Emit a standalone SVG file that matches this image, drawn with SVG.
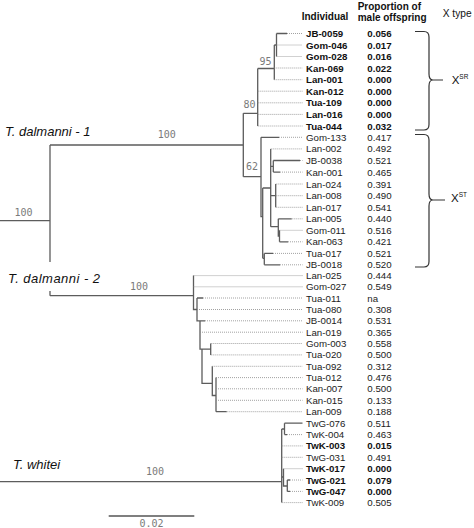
<svg xmlns="http://www.w3.org/2000/svg" width="474" height="528" viewBox="0 0 474 528">
<style>
.br{stroke:#5c5c5c;stroke-width:1.3;fill:none}
.dt{stroke:#8a8a8a;stroke-width:0.8;stroke-dasharray:1 1;fill:none}
.bc{stroke:#333;stroke-width:1.2;fill:none}
.nm{font-family:"Liberation Sans",Arial,sans-serif;font-size:9.7px;fill:#222}
.b{font-weight:bold;fill:#111}
.bs{font-family:"DejaVu Sans Mono",monospace;font-size:10px;fill:#7a7a7a;text-anchor:middle}
.sp{font-family:"Liberation Sans",Arial,sans-serif;font-style:italic;font-size:13px;fill:#111}
.hd{font-family:"Liberation Sans",Arial,sans-serif;font-weight:bold;font-size:10px;fill:#111}
.xt{font-family:"Liberation Sans",Arial,sans-serif;fill:#111}
</style>
<rect width="474" height="528" fill="#fff"/>
<g id="header">
<text class="hd" x="301.7" y="20">Individual</text>
<text class="hd" x="357.7" y="9.5">Proportion of</text>
<text class="hd" x="357.7" y="20.5">male offspring</text>
<text class="xt" x="442.7" y="16.5" font-size="10.2">X type</text>
</g>
<g id="connectors">
<path class="br" d="M0,220.7H50M50,145V262M50,291V295.7M50,145H243.3M243.3,113.3V176.7M243.3,113.3H257.7M257.7,68.5V126M257.7,68.5H274.3M274.3,45V79.7M274.3,45H276.5M276.5,33.5V56.5M276.5,33.5H287M243.3,176.7H261M261,137.3V216.7H262.7M261,137.3H279M262.7,188V258.3M262.7,188H270.7M270.7,148.9V226.7M270.7,166.3H273.3M273.3,160.5V172.1M273.3,160.5H300M273.3,172.1H280M270.7,195.7H275.7M275.7,184V207.3M270.7,226.7H278.3M278.3,218.8V236H279.5M279.5,230.3V241.8M278.3,218.8H291.7M279.5,241.8H288M262.7,258.3H264.3M264.3,253.4V264.8M264.3,253.4H273M264.3,264.8H280"/>
<path class="br" d="M50,295.7H193.5M193.5,275.6V309.5H197M197,298V320.8H200M197,298H203M200,320.8V349.2H210.7M202,349.2V383.3H212.3M200,320.8H205M210.7,343.5V354.9M212.3,366.3V395.5H216M216,377.6V411.7M216,411.7H226.7"/>
<path class="br" d="M0,481.7H281.7M281.7,429V502.6M281.7,429H284.5M284.5,423.2V434.6M284.5,423.2H302.5M284.5,434.6H287M281.7,477H283.5M283.5,468.7V486H287.3M287.3,480V491.4M287.3,480H290M287.3,491.4H290"/>
<path class="dt" d="M287,33.5H302.5M276.5,45H302.5M276.5,56.5H302.5M274.3,68H302.5M274.3,79.7H302.5M257.7,91.2H302.5M257.7,102.8H302.5M257.7,114.4H302.5M257.7,126H302.5M279,137.3H302.5M270.7,148.9H302.5M300,160.5H302.5M280,172.1H302.5M275.7,184H302.5M275.7,195.7H302.5M275.7,207.3H302.5M291.7,218.8H302.5M279.5,230.3H302.5M288,241.8H302.5M273,253.4H302.5M280,264.8H302.5"/>
<path class="dt" d="M193.5,275.6H302.5M193.5,286.8H302.5M203,298H302.5M197,309.5H302.5M205,320.8H302.5M200,332.2H302.5M210.7,343.5H302.5M210.7,354.9H302.5M212.3,366.3H302.5M216,377.6H302.5M216,388.8H302.5M216,400.3H302.5M226.7,411.7H302.5"/>
<path class="dt" d="M287,434.6H302.5M281.7,445.9H302.5M281.7,457.3H302.5M283.5,468.7H302.5M290,480H302.5M290,491.4H302.5M281.7,502.6H302.5"/>
</g>
<g id="support">
<text class="bs" x="23.5" y="215.5">100</text>
<text class="bs" x="166.7" y="137.7">100</text>
<text class="bs" x="139" y="289.5">100</text>
<text class="bs" x="155" y="474.5">100</text>
<text class="bs" x="265.4" y="64.5">95</text>
<text class="bs" x="249.5" y="108">80</text>
<text class="bs" x="252" y="169.5">62</text>
</g>
<g id="species">
<text class="sp" x="5" y="136">T. dalmanni - 1</text>
<text class="sp" x="8" y="283" textLength="92">T. dalmanni - 2</text>
<text class="sp" x="13" y="468.5">T. whitei</text>
</g>
<g id="tips" class="nm">
<g id="t0"><text class="b" x="306" y="37">JB-0059</text><text class="b" x="367.3" y="37">0.056</text></g>
<g id="t1"><text class="b" x="306" y="48.5">Gom-046</text><text class="b" x="367.3" y="48.5">0.017</text></g>
<g id="t2"><text class="b" x="306" y="60">Gom-028</text><text class="b" x="367.3" y="60">0.016</text></g>
<g id="t3"><text class="b" x="306" y="71.5">Kan-069</text><text class="b" x="367.3" y="71.5">0.022</text></g>
<g id="t4"><text class="b" x="306" y="83.2">Lan-001</text><text class="b" x="367.3" y="83.2">0.000</text></g>
<g id="t5"><text class="b" x="306" y="94.7">Kan-012</text><text class="b" x="367.3" y="94.7">0.000</text></g>
<g id="t6"><text class="b" x="306" y="106.3">Tua-109</text><text class="b" x="367.3" y="106.3">0.000</text></g>
<g id="t7"><text class="b" x="306" y="117.9">Lan-016</text><text class="b" x="367.3" y="117.9">0.000</text></g>
<g id="t8"><text class="b" x="306" y="129.5">Tua-044</text><text class="b" x="367.3" y="129.5">0.032</text></g>
<g id="t9"><text x="306" y="140.8">Gom-133</text><text x="367.3" y="140.8">0.417</text></g>
<g id="t10"><text x="306" y="152.4">Lan-002</text><text x="367.3" y="152.4">0.492</text></g>
<g id="t11"><text x="306" y="164">JB-0038</text><text x="367.3" y="164">0.521</text></g>
<g id="t12"><text x="306" y="175.6">Kan-001</text><text x="367.3" y="175.6">0.465</text></g>
<g id="t13"><text x="306" y="187.5">Lan-024</text><text x="367.3" y="187.5">0.391</text></g>
<g id="t14"><text x="306" y="199.2">Lan-008</text><text x="367.3" y="199.2">0.490</text></g>
<g id="t15"><text x="306" y="210.8">Lan-017</text><text x="367.3" y="210.8">0.541</text></g>
<g id="t16"><text x="306" y="222.3">Lan-005</text><text x="367.3" y="222.3">0.440</text></g>
<g id="t17"><text x="306" y="233.8">Gom-011</text><text x="367.3" y="233.8">0.516</text></g>
<g id="t18"><text x="306" y="245.3">Kan-063</text><text x="367.3" y="245.3">0.421</text></g>
<g id="t19"><text x="306" y="256.9">Tua-017</text><text x="367.3" y="256.9">0.521</text></g>
<g id="t20"><text x="306" y="268.3">JB-0018</text><text x="367.3" y="268.3">0.520</text></g>
<g id="t21"><text x="306" y="279.1">Lan-025</text><text x="367.3" y="279.1">0.444</text></g>
<g id="t22"><text x="306" y="290.3">Gom-027</text><text x="367.3" y="290.3">0.549</text></g>
<g id="t23"><text x="306" y="301.5">Tua-011</text><text x="367.3" y="301.5">na</text></g>
<g id="t24"><text x="306" y="313">Tua-080</text><text x="367.3" y="313">0.308</text></g>
<g id="t25"><text x="306" y="324.3">JB-0014</text><text x="367.3" y="324.3">0.531</text></g>
<g id="t26"><text x="306" y="335.7">Lan-019</text><text x="367.3" y="335.7">0.365</text></g>
<g id="t27"><text x="306" y="347">Gom-003</text><text x="367.3" y="347">0.558</text></g>
<g id="t28"><text x="306" y="358.4">Tua-020</text><text x="367.3" y="358.4">0.500</text></g>
<g id="t29"><text x="306" y="369.8">Tua-092</text><text x="367.3" y="369.8">0.312</text></g>
<g id="t30"><text x="306" y="381.1">Tua-012</text><text x="367.3" y="381.1">0.476</text></g>
<g id="t31"><text x="306" y="392.3">Kan-007</text><text x="367.3" y="392.3">0.500</text></g>
<g id="t32"><text x="306" y="403.8">Kan-015</text><text x="367.3" y="403.8">0.133</text></g>
<g id="t33"><text x="306" y="415.2">Lan-009</text><text x="367.3" y="415.2">0.188</text></g>
<g id="t34"><text x="306" y="426.7">TwG-076</text><text x="367.3" y="426.7">0.511</text></g>
<g id="t35"><text x="306" y="438.1">TwK-004</text><text x="367.3" y="438.1">0.463</text></g>
<g id="t36"><text class="b" x="306" y="449.4">TwK-003</text><text class="b" x="367.3" y="449.4">0.015</text></g>
<g id="t37"><text x="306" y="460.8">TwG-031</text><text x="367.3" y="460.8">0.491</text></g>
<g id="t38"><text class="b" x="306" y="472.2">TwK-017</text><text class="b" x="367.3" y="472.2">0.000</text></g>
<g id="t39"><text class="b" x="306" y="483.5">TwG-021</text><text class="b" x="367.3" y="483.5">0.079</text></g>
<g id="t40"><text class="b" x="306" y="494.9">TwG-047</text><text class="b" x="367.3" y="494.9">0.000</text></g>
<g id="t41"><text x="306" y="506.1">TwK-009</text><text x="367.3" y="506.1">0.505</text></g>
</g>
<g id="xsr">
<path class="bc" d="M415,31.5H424Q429,31.5 429,37V74Q429,80 433,80Q429,80 429,86V124.5Q429,130 424,130H415M433,80H443"/>
<text class="xt" x="451.7" y="84" font-size="11.5">X<tspan font-size="6.5" dy="-5.5">SR</tspan></text>
</g>
<g id="xst">
<path class="bc" d="M415,134.5H424Q429,134.5 429,140V194Q429,200 433,200Q429,200 429,206V261.5Q429,267 424,267H415M433,200H445"/>
<text class="xt" x="451" y="201.7" font-size="11.5">X<tspan font-size="6.5" dy="-5">ST</tspan></text>
</g>
<g id="scalebar">
<path d="M108.7,516H194.3" stroke="#555" stroke-width="1.5"/>
<text class="bs" x="151.5" y="526.5" font-size="9.5" fill="#444">0.02</text>
</g>
</svg>
